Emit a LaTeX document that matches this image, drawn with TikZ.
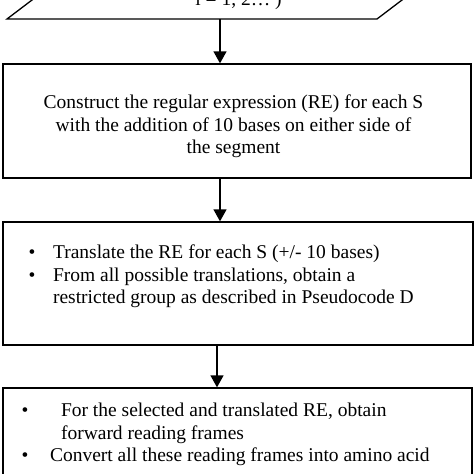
\documentclass[tikz,border=0pt]{standalone}
\usepackage{fontspec}
\setmainfont{Liberation Serif}
\usetikzlibrary{arrows.meta}

\tikzset{
  stepbox/.style={draw, rectangle, line width=1.3pt, inner sep=0pt},
  flow/.style={line width=1.3pt, -{Triangle[length=12pt,width=13pt]}},
  steptext/.style={inner sep=0pt, font=\fontsize{19.5}{22.5}\selectfont}
}

\begin{document}
\begin{tikzpicture}[x=1pt,y=1pt]
          \useasboundingbox (0,0) rectangle (474,-474);
          \clip (0,0) rectangle (474,-474);

          % input parallelogram (only its lower part is shown)
          \draw [line width=1.3pt] (7,-19) -- (377,-19) -- (441.5,30) -- (71.5,30) -- cycle;
          \coordinate (input) at (220,-19);
          \node [steptext, anchor=base] (range) at (238.5,-5.5) {i = 1, 2… )};

          \node [stepbox, minimum width=468, minimum height=114] (construct) at (237,-121) {};
          \node [stepbox, minimum width=470, minimum height=123] (translate) at (238,-283.5) {};
          \node [stepbox, minimum width=469, minimum height=132] (frames) at (237.5,-454) {};

          \node [steptext, align=center] (constructtext) at (233.5,-126.5)
            {Construct the regular expression (RE) for each S\\
             with the addition of 10 bases on either side of\\
             the segment};

          \node [steptext, anchor=north west] (translatetext) at (28.5,-243)
            {\begin{tabular}{@{}l@{\hspace{17.5pt}}l@{}}
             \textbullet & Translate the RE for each S (+/- 10 bases)\\
             \textbullet & From all possible translations, obtain a\\
                         & restricted group as described in Pseudocode D
             \end{tabular}};

          \node [steptext, anchor=north west] (framestext) at (21.5,-401)
            {\begin{tabular}{@{}l@{\hspace{21.5pt}}l@{}}
             \textbullet & \hspace{11pt}For the selected and translated RE, obtain\\
                         & \hspace{11pt}forward reading frames\\
             \textbullet & Convert all these reading frames into amino acid
             \end{tabular}};

          \draw [flow] (input) -- (input |- construct.north);
          \draw [flow] (construct.south -| input) -- (translate.north -| input);
          \draw [flow] ([xshift=-3]input |- translate.south) -- ([xshift=-3]input |- frames.north);

\end{tikzpicture}
\end{document}
